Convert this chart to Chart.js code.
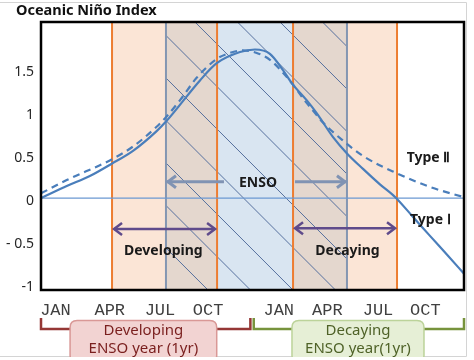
<!DOCTYPE html>
<html><head><meta charset="utf-8">
<script src="https://cdn.jsdelivr.net/npm/chart.js@4/dist/chart.umd.min.js"></script>
<style>html,body{margin:0;padding:0;background:#fff}#wrap{width:474px;height:360px}</style>
</head><body><div id="wrap"><canvas id="c" width="474" height="360"></canvas></div>
<script>
// ---------- data ----------
const monthTickPos    = [0.82, 3.9, 6.75, 9.48, 13.49, 16.25, 19.12, 21.81];
const monthTickLabels = ['JAN','APR','JUL','OCT','JAN','APR','JUL','OCT'];
const yTickValues = [-1, -0.5, 0, 0.5, 1, 1.5];
const yTickLabels = ['-1', '- 0.5', '0', '0.5', '1', '1.5'];

const typeIMonths = [0, 1.46, 2.8, 4.01, 5.22, 6.56, 7.13, 9.02, 9.97, 11.29, 12.14, 12.99, 13.73, 14.26, 15.07, 15.64, 16.57, 17.36, 18.27, 19.23, 20.1, 21.11, 22.07, 23.04, 24];
const typeIValues = [0, 0.14, 0.26, 0.40, 0.55, 0.78, 0.90, 1.37, 1.57, 1.70, 1.73, 1.68, 1.49, 1.33, 1.14, 0.99, 0.71, 0.52, 0.34, 0.16, 0.01, -0.22, -0.44, -0.66, -0.88];

const typeIIMonths = [0, 1.46, 4.01, 5.22, 6.56, 7.04, 7.89, 8.83, 9.97, 10.72, 11.46, 12.24, 12.99, 13.73, 14.30, 14.87, 15.43, 16.0, 17.13, 18.27, 20.18, 22.07, 24];
const typeIIValues = [0.055, 0.21, 0.45, 0.60, 0.83, 0.93, 1.14, 1.40, 1.62, 1.69, 1.72, 1.69, 1.61, 1.46, 1.32, 1.16, 1.02, 0.88, 0.67, 0.49, 0.29, 0.13, 0.01];

const bandEdges   = [4.03, 7.09, 9.99, 14.3, 17.36, 20.2];
const orangeLines = [4.03, 9.99, 14.3, 20.2];
const phaseLines  = [7.09, 17.36];

const arrowNames = ['ENSO', 'Developing', 'Decaying'];
const arrowFrom  = [7.09, 4.03, 14.3];
const arrowTo    = [17.36, 9.99, 20.2];
const arrowY     = [0.19, -0.36, -0.35];

const noteTexts  = ['Developing', 'Decaying', 'Type Ⅱ', 'Type Ⅰ'];
const noteX      = [6.94, 17.39, 20.75, 20.94];
const noteY      = [-0.62, -0.62, 0.47, -0.26];

const yearBoxLine1 = ['Developing', 'Decaying'];
const yearBoxLine2 = ['ENSO year (1yr)', 'ENSO year(1yr)'];
const yearBoxFrom  = [1.65, 14.24];
const yearBoxTo    = [9.97, 21.73];
const bracketFrom  = [0, 12.07];
const bracketTo    = [11.88, 24];

// ---------- styles ----------
const BAND_FILLS = ['#fbe5d6', '#e4d7ce', '#d9e5f1', '#e4d7ce', '#fbe5d6'];
const CURVE = '#4a7ebb';

function chevron(ctx, x, y, dir, len, half) {
  ctx.beginPath();
  ctx.moveTo(x - dir * len, y - half);
  ctx.lineTo(x, y);
  ctx.lineTo(x - dir * len, y + half);
  ctx.stroke();
}
function roundRect(ctx, x, y, w, h, r) {
  ctx.beginPath();
  ctx.moveTo(x + r, y);
  ctx.lineTo(x + w - r, y);
  ctx.quadraticCurveTo(x + w, y, x + w, y + r);
  ctx.lineTo(x + w, y + h - r);
  ctx.quadraticCurveTo(x + w, y + h, x + w - r, y + h);
  ctx.lineTo(x + r, y + h);
  ctx.quadraticCurveTo(x, y + h, x, y + h - r);
  ctx.lineTo(x, y + r);
  ctx.quadraticCurveTo(x, y, x + r, y);
  ctx.closePath();
}

const deco = {
  id: 'deco',
  beforeDatasetsDraw(chart) {
    const {ctx, chartArea: a, scales: {x, y}} = chart;
    ctx.save();
    for (let i = 0; i < bandEdges.length - 1; i++) {
      const x0 = x.getPixelForValue(bandEdges[i]), x1 = x.getPixelForValue(bandEdges[i + 1]);
      ctx.fillStyle = BAND_FILLS[i];
      ctx.fillRect(x0, a.top, x1 - x0, a.bottom - a.top);
    }
    const hx0 = x.getPixelForValue(bandEdges[1]), hx1 = x.getPixelForValue(bandEdges[4]);
    const h = a.bottom - a.top;
    ctx.save();
    ctx.beginPath(); ctx.rect(hx0, a.top, hx1 - hx0, h); ctx.clip();
    ctx.strokeStyle = '#56709e'; ctx.lineWidth = 1;
    const sp = 42.5, phase = hx0 + 29;
    for (let k = -Math.ceil(h / sp) - 1; k < 12; k++) {
      const xt = phase + k * sp;
      ctx.beginPath(); ctx.moveTo(xt, a.top); ctx.lineTo(xt + h, a.bottom); ctx.stroke();
    }
    ctx.restore();
    ctx.lineWidth = 2;
    ctx.strokeStyle = '#8496b2';
    phaseLines.forEach(v => { const p = x.getPixelForValue(v); ctx.beginPath(); ctx.moveTo(p, a.top); ctx.lineTo(p, a.bottom); ctx.stroke(); });
    ctx.strokeStyle = '#ed7d31';
    orangeLines.forEach(v => { const p = x.getPixelForValue(v); ctx.beginPath(); ctx.moveTo(p, a.top); ctx.lineTo(p, a.bottom); ctx.stroke(); });
    const z = y.getPixelForValue(0);
    ctx.strokeStyle = '#6b98d2'; ctx.lineWidth = 1.3;
    ctx.beginPath(); ctx.moveTo(a.left, z); ctx.lineTo(a.right, z); ctx.stroke();

    ctx.textAlign = 'center'; ctx.textBaseline = 'middle';
    for (let i = 0; i < arrowNames.length; i++) {
      const x0 = x.getPixelForValue(arrowFrom[i]), x1 = x.getPixelForValue(arrowTo[i]);
      const py = y.getPixelForValue(arrowY[i]);
      if (i === 0) {
        ctx.strokeStyle = '#8093b3'; ctx.lineWidth = 3;
        ctx.font = 'bold 14px "Noto Sans"';
        const cx = x.getPixelForValue(12.31);
        const w = ctx.measureText(arrowNames[0]).width;
        ctx.beginPath(); ctx.moveTo(x0 + 1, py); ctx.lineTo(cx - w / 2 - 15, py); ctx.stroke();
        ctx.beginPath(); ctx.moveTo(cx + w / 2 + 18, py); ctx.lineTo(x1 - 1, py); ctx.stroke();
        chevron(ctx, x0 + 2, py, -1, 8, 6);
        chevron(ctx, x1 - 2, py, 1, 8, 6);
        ctx.fillStyle = '#1a1a1a';
        ctx.fillText(arrowNames[0], cx, py + 1);
      } else {
        ctx.strokeStyle = '#5f4b8b'; ctx.lineWidth = 2.5;
        ctx.beginPath(); ctx.moveTo(x0 + 2, py); ctx.lineTo(x1 - 2, py); ctx.stroke();
        chevron(ctx, x0 + 2, py, -1, 8, 6);
        chevron(ctx, x1 - 2, py, 1, 8, 6);
      }
    }
    ctx.restore();
  },
  afterDatasetsDraw(chart) {
    const {ctx, chartArea: a, scales: {x, y}} = chart;
    ctx.save();
    ctx.fillStyle = '#1a1a1a';
    ctx.font = 'bold 14px "Noto Sans"';
    ctx.textBaseline = 'middle';
    for (let i = 0; i < noteTexts.length; i++) {
      ctx.textAlign = i < 2 ? 'center' : 'left';
      ctx.fillText(noteTexts[i], x.getPixelForValue(noteX[i]), y.getPixelForValue(noteY[i]));
    }
    ctx.strokeStyle = '#000'; ctx.lineWidth = 2.5;
    ctx.strokeRect(a.left, a.top, a.right - a.left, a.bottom - a.top);
    ctx.restore();
  },
  afterDraw(chart) {
    const {ctx, scales: {x}} = chart;
    ctx.save();
    ctx.strokeStyle = '#d4d4d4'; ctx.lineWidth = 1;
    ctx.beginPath(); ctx.moveTo(0, 2.5); ctx.lineTo(466.5, 2.5); ctx.lineTo(466.5, 356.5); ctx.lineTo(0, 356.5); ctx.stroke();
    ctx.fillStyle = '#111'; ctx.font = 'bold 14.5px "Noto Sans"';
    ctx.textAlign = 'left'; ctx.textBaseline = 'middle';
    ctx.fillText('Oceanic Niño Index', 16, 11);
    const bColors = ['#953735', '#77933c'];
    const bTop = 318, bBot = 329;
    ctx.lineWidth = 2.5;
    for (let i = 0; i < 2; i++) {
      const x0 = x.getPixelForValue(bracketFrom[i]), x1 = x.getPixelForValue(bracketTo[i]);
      ctx.strokeStyle = bColors[i];
      ctx.beginPath(); ctx.moveTo(x0, bTop); ctx.lineTo(x0, bBot); ctx.lineTo(x1, bBot); ctx.lineTo(x1, bTop); ctx.stroke();
    }
    const fills = ['#f2d3d2', '#e6efd6'], strokes = ['#d99896', '#bcd39a'], tcol = ['#7a1f1e', '#4f6228'];
    for (let i = 0; i < 2; i++) {
      const x0 = x.getPixelForValue(yearBoxFrom[i]), x1 = x.getPixelForValue(yearBoxTo[i]);
      roundRect(ctx, x0, 320.5, x1 - x0, 42, 7);
      ctx.fillStyle = fills[i]; ctx.fill();
      ctx.strokeStyle = strokes[i]; ctx.lineWidth = 1.5; ctx.stroke();
      ctx.fillStyle = tcol[i]; ctx.font = '15px "Noto Sans"';
      ctx.textAlign = 'center';
      const cx = (x0 + x1) / 2;
      ctx.fillText(yearBoxLine1[i], cx, 331);
      ctx.fillText(yearBoxLine2[i], cx, 348.5);
    }
    ctx.fillStyle = '#fff'; ctx.fillRect(0, 357, 474, 3);
    ctx.restore();
  }
};

const mk = (xs, ys) => xs.map((v, i) => ({x: v, y: ys[i]}));

new Chart(document.getElementById('c'), {
  type: 'line',
  data: {
    datasets: [
      {label: 'Type II', data: mk(typeIIMonths, typeIIValues), borderColor: CURVE, borderWidth: 2.2, borderDash: [7, 5], pointRadius: 0, cubicInterpolationMode: 'monotone', fill: false},
      {label: 'Type I', data: mk(typeIMonths, typeIValues), borderColor: CURVE, borderWidth: 2.2, pointRadius: 0, cubicInterpolationMode: 'monotone', fill: false}
    ]
  },
  options: {
    responsive: false, animation: false, devicePixelRatio: 1,
    layout: {padding: {left: 0, right: 10, top: 22, bottom: 0}},
    plugins: {legend: {display: false}, tooltip: {enabled: false}, title: {display: false}},
    scales: {
      x: {
        type: 'linear', min: 0, max: 24,
        grid: {display: false, drawTicks: false}, border: {display: false},
        afterBuildTicks: s => { s.ticks = monthTickPos.map(v => ({value: v})); },
        afterFit: s => { s.height = 70; },
        ticks: {autoSkip: false, maxRotation: 0, padding: 10, color: '#404040',
          font: {family: '"Liberation Mono", monospace', size: 17},
          callback: (v, i) => monthTickLabels[i]}
      },
      y: {
        type: 'linear', min: -1.07, max: 2.05,
        grid: {display: false, drawTicks: false}, border: {display: false},
        afterBuildTicks: s => { s.ticks = yTickValues.map(v => ({value: v})); },
        afterFit: s => { s.width = 41; },
        ticks: {autoSkip: false, padding: 7, labelOffset: 3, color: '#262626',
          font: {family: '"Noto Sans"', size: 14},
          callback: (v, i) => yTickLabels[i]}
      }
    }
  },
  plugins: [deco]
});
</script>
</body></html>
